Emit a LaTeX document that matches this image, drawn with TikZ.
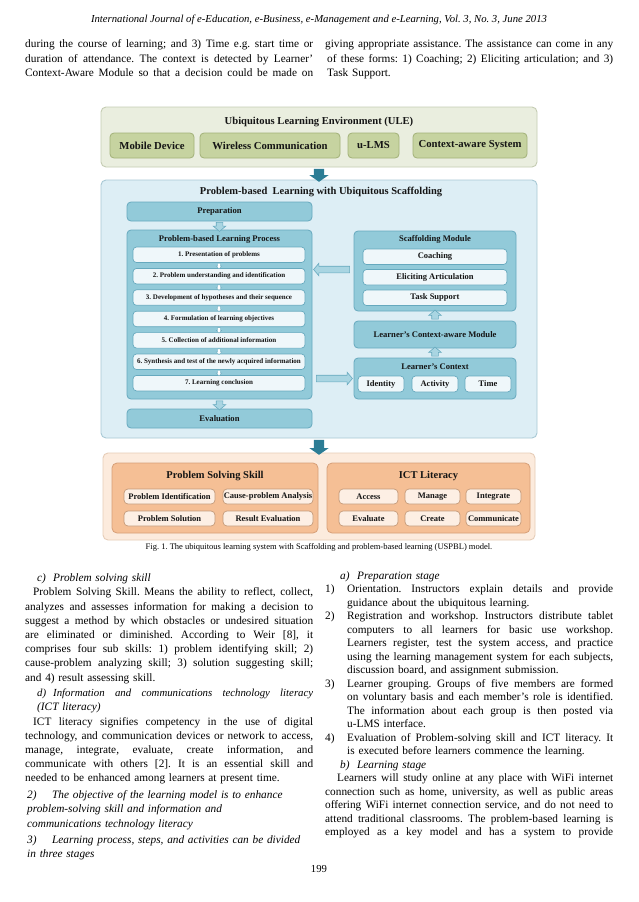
\documentclass[tikz,border=0pt]{standalone}
\usepackage{fontspec}
\setmainfont{Liberation Serif}
\usetikzlibrary{shapes.arrows,calc}
\frenchspacing
\definecolor{ulefill}{HTML}{EAEEDF}
\definecolor{uleline}{HTML}{C5CCB3}
\definecolor{uleitemfill}{HTML}{C6D3A0}
\definecolor{uleitemline}{HTML}{A2B178}
\definecolor{tealarr}{HTML}{2C7D95}
\definecolor{pbfill}{HTML}{DDEEF5}
\definecolor{pbline}{HTML}{A8C9D5}
\definecolor{midfill}{HTML}{92CAD9}
\definecolor{midline}{HTML}{66A9BE}
\definecolor{stepfill}{HTML}{EFF7FA}
\definecolor{hollowfill}{HTML}{A9D5E2}
\definecolor{orfill}{HTML}{FCEBDD}
\definecolor{orline}{HTML}{E6CDB8}
\definecolor{orinfill}{HTML}{F5BF95}
\definecolor{orinline}{HTML}{D69F78}
\definecolor{oritemfill}{HTML}{FDEFE4}
\definecolor{oritemline}{HTML}{C49A7A}
\definecolor{ink}{HTML}{151515}
\newlength\colw
\setlength\colw{288pt}
\newcommand\stbox[2]{\hbox to #1{\spaceskip=0.25em plus 0.6em minus 0.09em\relax\xspaceskip=\spaceskip #2}}
\newcommand\jl[2][0pt]{\hspace*{#1}\stbox{\dimexpr\colw-#1\relax}{#2}}
\newcommand\bx[8][]{\node[#2,minimum width={(#6-#4)*1pt},minimum height={(#7-#5)*1pt},#1] (#3) at ({(#4+#6)/2},{(#5+#7)/2}) {#8};}
\begin{document}
\begin{tikzpicture}[x=1pt,y=-1pt,
  body/.style={anchor=base west,text width=\colw,align=left,inner sep=0pt,font=\fontsize{11.3}{13.5}\selectfont},
  lbody/.style={body,font=\fontsize{11.3}{14.2}\selectfont},
  ttl/.style={inner sep=0pt,text=ink,font=\fontsize{10.6}{12}\selectfont\bfseries},
  sttl/.style={inner sep=0pt,text=ink,font=\fontsize{8.6}{10}\selectfont\bfseries},
  ulebox/.style={draw=uleline,fill=ulefill,rounded corners=5pt,line width=0.9pt,inner sep=0pt},
  uleitem/.style={draw=uleitemline,fill=uleitemfill,rounded corners=4pt,line width=0.8pt,inner sep=0pt,text=ink,font=\fontsize{10.7}{12}\selectfont\bfseries},
  pbbox/.style={draw=pbline,fill=pbfill,rounded corners=5pt,line width=0.9pt,inner sep=0pt},
  midbox/.style={draw=midline,fill=midfill,rounded corners=4pt,line width=0.8pt,inner sep=0pt,text=ink,font=\fontsize{8.6}{10}\selectfont\bfseries},
  stepbox/.style={draw=midline,fill=stepfill,rounded corners=3.5pt,line width=0.7pt,inner sep=0pt,text=ink,font=\fontsize{7}{8}\selectfont\bfseries},
  scafitem/.style={stepbox,font=\fontsize{8.5}{10}\selectfont\bfseries},
  ctxitem/.style={stepbox,font=\fontsize{8.5}{10}\selectfont\bfseries},
  orbox/.style={draw=orline,fill=orfill,rounded corners=5pt,line width=0.9pt,inner sep=0pt},
  orinner/.style={draw=orinline,fill=orinfill,rounded corners=5pt,line width=0.8pt,inner sep=0pt},
  oritem/.style={draw=oritemline,fill=oritemfill,rounded corners=4pt,line width=0.7pt,inner sep=0pt,text=ink,font=\fontsize{8.5}{9}\selectfont\bfseries},
  tealarrow/.style={single arrow,fill=tealarr,draw=none,inner xsep=0pt,inner ysep=5pt,single arrow head extend=4.5pt,single arrow tip angle=110,rotate=-90},
  hollow/.style={single arrow,fill=hollowfill,draw=midline,line width=0.6pt,inner xsep=0pt,inner ysep=3pt,single arrow head extend=3pt,single arrow tip angle=100},
  tiny/.style={single arrow,fill=white,draw=midline,line width=0.35pt,inner xsep=0pt,inner ysep=1.3pt,single arrow head extend=1.3pt,single arrow tip angle=90,rotate=-90,minimum height=5.5pt}
]
\useasboundingbox (0,0) rectangle (638,902);
\fill[white] (0,0) rectangle (638,902);

% header
\node[anchor=base,inner sep=0pt,font=\fontsize{10.7}{12}\selectfont\itshape] (hdr) at (319,22.5) {International Journal of e-Education, e-Business, e-Management and e-Learning, Vol. 3, No. 3, June 2013};

% top text
\node[body,font=\fontsize{11.3}{14.5}\selectfont] (topL) at (25,47.7) {\jl{during the course of learning; and 3) Time e.g. start time or}\\
\jl{duration of attendance. The context is detected by Learner’}\\
\jl{Context-Aware Module so that a decision could be made on}};
\node[body,font=\fontsize{11.3}{14.5}\selectfont] (topR) at (325,47.7) {\jl{giving appropriate assistance. The assistance can come in any}\\
\jl[2pt]{of these forms: 1) Coaching; 2) Eliciting articulation; and 3)}\\
\hspace*{2pt}Task Support.};

% ULE
\bx{ulebox}{ule}{101}{107}{537}{167}{}
\node[ttl] (uleT) at (319,122) {Ubiquitous Learning Environment (ULE)};
\bx{uleitem}{mob}{110}{133}{194}{158}{Mobile Device}
\bx{uleitem}{wir}{200}{133}{340}{158}{Wireless Communication}
\bx{uleitem}{ulms}{348}{133}{399}{158}{u-LMS}
\bx{uleitem}{cas}{413}{133}{527}{158}{Context-aware System}

% PBL with scaffolding
\bx{pbbox}{pb}{101}{180}{537}{438}{}
\node[ttl,font=\fontsize{10.5}{12}\selectfont\bfseries] (pbT) at (321,192) {Problem-based\ \ Learning with Ubiquitous Scaffolding};
\node[tealarrow,minimum height=13pt] (ar1) at ($(ule.south)!0.5!(pb.north)$) {};

\bx{midbox}{prep}{127}{202}{312}{221}{Preparation}
\bx{midbox}{pbl}{127}{230}{312}{399}{}
\node[sttl] (pblT) at (219.5,239) {Problem-based Learning Process};
\node[hollow,rotate=-90,minimum height=9pt] (ar2) at ($(prep.south)!0.5!(pbl.north)$) {};
\bx{stepbox}{s1}{133}{247}{305}{262.5}{1. Presentation of problems}
\bx{stepbox}{s2}{133}{268.4}{305}{283.9}{2. Problem understanding and identification}
\bx{stepbox}{s3}{133}{289.8}{305}{305.3}{3. Development of hypotheses and their sequence}
\bx{stepbox}{s4}{133}{311.2}{305}{326.7}{4. Formulation of learning objectives}
\bx{stepbox}{s5}{133}{332.6}{305}{348.1}{5. Collection of additional information}
\bx{stepbox}{s6}{133}{354}{305}{369.5}{6. Synthesis and test of the newly acquired information}
\bx{stepbox}{s7}{133}{375.4}{305}{390.9}{7. Learning conclusion}
\foreach \a/\b in {s1/s2,s2/s3,s3/s4,s4/s5,s5/s6,s6/s7}{
  \node[tiny] (t\a) at ($(\a.south)!0.5!(\b.north)$) {};
}
\bx{midbox}{eval}{127}{409}{312}{428}{Evaluation}
\node[hollow,rotate=-90,minimum height=9pt] (ar3) at ($(pbl.south)!0.5!(eval.north)$) {};

\bx{midbox}{scaf}{354}{231}{516}{311}{}
\node[sttl] (scafT) at (435,239) {Scaffolding Module};
\bx{scafitem}{coach}{363}{249}{507}{264.5}{Coaching}
\bx{scafitem}{elic}{363}{269.5}{507}{285}{Eliciting Articulation}
\bx{scafitem}{task}{363}{290}{507}{305.5}{Task Support}
\bx{midbox}{cam}{354}{321}{516}{348}{Learner’s Context-aware Module}
\bx{midbox}{ctx}{354}{358}{516}{399}{}
\node[sttl] (ctxT) at (435,367) {Learner’s Context};
\bx{ctxitem}{ident}{358}{376}{404}{392}{Identity}
\bx{ctxitem}{act}{412}{376}{458}{392}{Activity}
\bx{ctxitem}{time}{465}{376}{511}{392}{Time}
\node[hollow,rotate=90,minimum height=9pt] (ar4) at ($(cam.north)!0.5!(scaf.south)$) {};
\node[hollow,rotate=90,minimum height=9pt] (ar5) at ($(ctx.north)!0.5!(cam.south)$) {};
\path (pbl.east |- 0,269.5) coordinate (l1) (scaf.west |- 0,269.5) coordinate (l2);
\node[hollow,rotate=180,minimum height=36pt] (ar6) at ($(l1)!0.5!(l2)$) {};
\node[hollow,minimum height=36pt] (ar7) at ($(pbl.east |- ctx.west)!0.5!(ctx.west)$) {};

% outcomes
\bx{orbox}{out}{103}{453}{535}{540}{}
\node[tealarrow,minimum height=15pt] (ar8) at ($(pb.south)!0.5!(out.north)$) {};
\bx{orinner}{pss}{112}{463}{318}{533}{}
\node[ttl,font=\fontsize{10.5}{12}\selectfont\bfseries] (pssT) at (215,476) {Problem Solving Skill};
\bx{oritem}{pid}{124}{489}{215}{504}{Problem Identification}
\bx{oritem}{cpa}{223}{489}{313}{504}{Cause-problem Analysis}
\bx{oritem}{psol}{124}{511}{215}{526}{Problem Solution}
\bx{oritem}{reval}{223}{511}{313}{526}{Result Evaluation}
\bx{orinner}{ict}{327}{463}{530}{533}{}
\node[ttl,font=\fontsize{10.5}{12}\selectfont\bfseries] (ictT) at (428.5,476) {ICT Literacy};
\bx{oritem}{acc}{339}{489}{398}{504}{Access}
\bx{oritem}{man}{405}{489}{460}{504}{Manage}
\bx{oritem}{int}{466}{489}{521}{504}{Integrate}
\bx{oritem}{evl}{339}{511}{398}{526}{Evaluate}
\bx{oritem}{cre}{405}{511}{460}{526}{Create}
\bx{oritem}{com}{466}{511}{521}{526}{Communicate}

\node[inner sep=0pt,font=\fontsize{8.5}{10}\selectfont] (cap) at (319,547.5) {Fig. 1. The ubiquitous learning system with Scaffolding and problem-based learning (USPBL) model.};

% left column
\node[lbody] (lc) at (25,581.7) {\hspace*{12pt}\makebox[16pt][l]{\itshape c)}\textit{Problem solving skill}\\
\jl[8pt]{Problem Solving Skill. Means the ability to reflect, collect,}\\
\jl{analyzes and assesses information for making a decision to}\\
\jl{suggest a method by which obstacles or undesired situation}\\
\jl{are eliminated or diminished. According to Weir [8], it}\\
\jl{comprises four sub skills: 1) problem identifying skill; 2)}\\
\jl{cause-problem analyzing skill; 3) solution suggesting skill;}\\
and 4) result assessing skill.};
\node[lbody] (ld) at (25,696.7) {\jl[12pt]{\fontsize{10.8}{14.2}\selectfont\itshape\makebox[16pt][l]{d)}Information and communications technology literacy}\\
\hspace*{12pt}\textit{(ICT literacy)}\\
\jl[8pt]{ICT literacy signifies competency in the use of digital}\\
\jl{technology, and communication devices or network to access,}\\
\jl{manage, integrate, evaluate, create information, and}\\
\jl{communicate with others [2]. It is an essential skill and}\\
needed to be enhanced among learners at present time.};
\node[lbody,font=\fontsize{11.3}{14.2}\selectfont\itshape] (l2) at (25,798.7) {\hspace*{2pt}\makebox[25pt][l]{2)}The objective of the learning model is to enhance\\
\hspace*{2pt}problem-solving skill and information and\\
\hspace*{2pt}communications technology literacy};
\node[lbody,font=\fontsize{11.3}{14.2}\selectfont\itshape] (l3) at (25,843.7) {\hspace*{2pt}\makebox[25pt][l]{3)}Learning process, steps, and activities can be divided\\
\hspace*{2pt}in three stages};

% right column
\node[body] (rc) at (325,579) {\hspace*{15pt}\makebox[17pt][l]{\itshape a)}\textit{Preparation stage}\\
\makebox[22pt][l]{1)}\stbox{\dimexpr\colw-22pt\relax}{Orientation. Instructors explain details and provide}\\
\hspace*{22pt}guidance about the ubiquitous learning.\\
\makebox[22pt][l]{2)}\stbox{\dimexpr\colw-22pt\relax}{Registration and workshop. Instructors distribute tablet}\\
\jl[22pt]{computers to all learners for basic use workshop.}\\
\jl[22pt]{Learners register, test the system access, and practice}\\
\jl[22pt]{using the learning management system for each subjects,}\\
\hspace*{22pt}discussion board, and assignment submission.\\
\makebox[22pt][l]{3)}\stbox{\dimexpr\colw-22pt\relax}{Learner grouping. Groups of five members are formed}\\
\jl[22pt]{on voluntary basis and each member’s role is identified.}\\
\jl[22pt]{The information about each group is then posted via}\\
\hspace*{22pt}u-LMS interface.\\
\makebox[22pt][l]{4)}\stbox{\dimexpr\colw-22pt\relax}{Evaluation of Problem-solving skill and ICT literacy. It}\\
\hspace*{22pt}is executed before learners commence the learning.\\
\hspace*{15pt}\makebox[17pt][l]{\itshape b)}\textit{Learning stage}\\
\jl[12pt]{Learners will study online at any place with WiFi internet}\\
\jl{connection such as home, university, as well as public areas}\\
\jl{offering WiFi internet connection service, and do not need to}\\
\jl{attend traditional classrooms. The problem-based learning is}\\
\jl{employed as a key model and has a system to provide}};

\node[inner sep=0pt,anchor=base,font=\fontsize{10.7}{13}\selectfont] (pg) at (319,872) {199};
\end{tikzpicture}
\end{document}
